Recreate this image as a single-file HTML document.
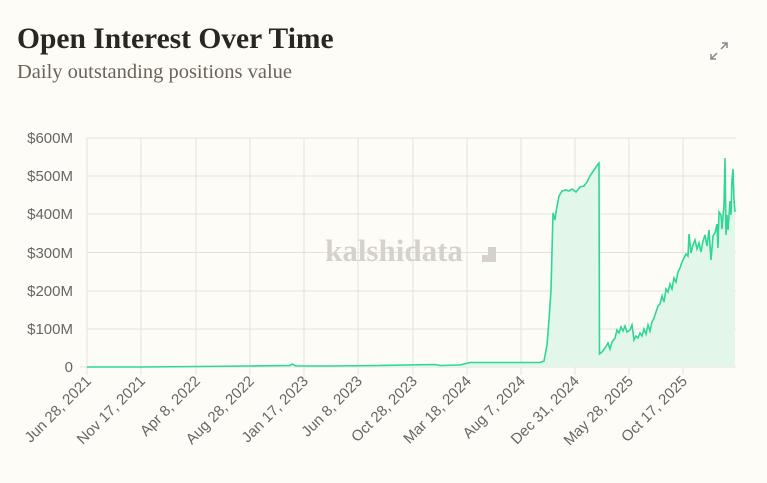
<!DOCTYPE html>
<html><head><meta charset="utf-8"><style>
body{margin:0;background:#fdfcf7;width:767px;height:478px;overflow:hidden;font-family:"Liberation Sans",sans-serif}
</style></head><body>
<svg width="767" height="478" xmlns="http://www.w3.org/2000/svg">
<rect width="767" height="478" fill="#fdfcf7"/>
<text x="17" y="48" font-family="Liberation Serif,serif" font-weight="bold" font-size="29.5" fill="#2a2620">Open Interest Over Time</text>
<text x="17" y="78" font-family="Liberation Serif,serif" font-size="20.5" fill="#6b6358">Daily outstanding positions value</text>
<g stroke="#888" stroke-width="1.5" fill="none"><path d="M711 59l6-6M711 54v5h5M727 43l-6 6M727 48v-5h-5"/></g>
<g stroke="#e4e2dd" stroke-width="1">
<line x1="87" x2="736" y1="138" y2="138"/><line x1="87" x2="736" y1="176" y2="176"/><line x1="87" x2="736" y1="214" y2="214"/><line x1="87" x2="736" y1="252.5" y2="252.5"/><line x1="87" x2="736" y1="291" y2="291"/><line x1="87" x2="736" y1="329" y2="329"/><line x1="80" x2="736" y1="367" y2="367"/>
<line x1="87" x2="87" y1="138" y2="375"/><line x1="141" x2="141" y1="138" y2="375"/><line x1="196" x2="196" y1="138" y2="375"/><line x1="250" x2="250" y1="138" y2="375"/><line x1="304" x2="304" y1="138" y2="375"/><line x1="358" x2="358" y1="138" y2="375"/><line x1="413" x2="413" y1="138" y2="375"/><line x1="467" x2="467" y1="138" y2="375"/><line x1="521" x2="521" y1="138" y2="375"/><line x1="575" x2="575" y1="138" y2="375"/><line x1="629" x2="629" y1="138" y2="375"/><line x1="683" x2="683" y1="138" y2="375"/>
</g>
<g font-size="15" fill="#666" text-anchor="end">
<text x="73" y="143">$600M</text><text x="73" y="181">$500M</text><text x="73" y="219">$400M</text><text x="73" y="258">$300M</text><text x="73" y="296">$200M</text><text x="73" y="334">$100M</text><text x="73" y="372">0</text>
</g>
<text x="394" y="261" text-anchor="middle" font-family="Liberation Serif,serif" font-weight="bold" font-size="31" fill="#d6d2cb">kalshidata</text>
<path d="M474 262h8v-7h6v-8h8v15h-22z" fill="#d6d2cb"/>
<path d="M87 367L140 367L200 366.5L250 366L290 365.5L292 364L296 366L330 366L380 365.5L435 364.5L440 365.5L460 365L470 362.5L500 362.5L540 362.5L544 361L547 345L549 320L551 290L553 213L555 220L556 212L559 196L562 191L566 190L569 191L572 189L576 192L580 187L584 186L587 182L590 176L594 170L598 164L599 163L599.5 354L602 352L605 348L608 343L610 349L612 342L615 338L617 330L619 333L621 327L623 331L625 326L627 332L630 330L632 325L634 340L636 336L638 338L640 333L642 336L644 329L646 334L648 325L650 331L652 322L654 318L656 312L658 306L660 304L662 296L664 302L666 289L668 292L670 284L672 289L674 278L676 282L678 272L680 268L682 262L684 258L686 254L688 256L689 234L691 253L693 245L695 240L697 249L699 243L701 252L703 241L705 235L707 246L709 230L711 260L713 236L715 233L717 224L718 248L719 212L721 215L722 229L724 205L725 158L726 235L727 215L728 230L730 201L731 215L732 180L733 169L734 200L735 212L735 367Z" fill="#e3f6ea"/>
<path d="M87 367L140 367L200 366.5L250 366L290 365.5L292 364L296 366L330 366L380 365.5L435 364.5L440 365.5L460 365L470 362.5L500 362.5L540 362.5L544 361L547 345L549 320L551 290L553 213L555 220L556 212L559 196L562 191L566 190L569 191L572 189L576 192L580 187L584 186L587 182L590 176L594 170L598 164L599 163L599.5 354L602 352L605 348L608 343L610 349L612 342L615 338L617 330L619 333L621 327L623 331L625 326L627 332L630 330L632 325L634 340L636 336L638 338L640 333L642 336L644 329L646 334L648 325L650 331L652 322L654 318L656 312L658 306L660 304L662 296L664 302L666 289L668 292L670 284L672 289L674 278L676 282L678 272L680 268L682 262L684 258L686 254L688 256L689 234L691 253L693 245L695 240L697 249L699 243L701 252L703 241L705 235L707 246L709 230L711 260L713 236L715 233L717 224L718 248L719 212L721 215L722 229L724 205L725 158L726 235L727 215L728 230L730 201L731 215L732 180L733 169L734 200L735 212" fill="none" stroke="#2ed891" stroke-width="1.6"/>
<g font-size="15" fill="#666" text-anchor="end">
<text transform="translate(92,382) rotate(-45)">Jun 28, 2021</text>
<text transform="translate(146,382) rotate(-45)">Nov 17, 2021</text>
<text transform="translate(201,382) rotate(-45)">Apr 8, 2022</text>
<text transform="translate(255,382) rotate(-45)">Aug 28, 2022</text>
<text transform="translate(309,382) rotate(-45)">Jan 17, 2023</text>
<text transform="translate(363,382) rotate(-45)">Jun 8, 2023</text>
<text transform="translate(418,382) rotate(-45)">Oct 28, 2023</text>
<text transform="translate(472,382) rotate(-45)">Mar 18, 2024</text>
<text transform="translate(526,382) rotate(-45)">Aug 7, 2024</text>
<text transform="translate(580,382) rotate(-45)">Dec 31, 2024</text>
<text transform="translate(634,382) rotate(-45)">May 28, 2025</text>
<text transform="translate(688,382) rotate(-45)">Oct 17, 2025</text>
</g>
</svg>
</body></html>
